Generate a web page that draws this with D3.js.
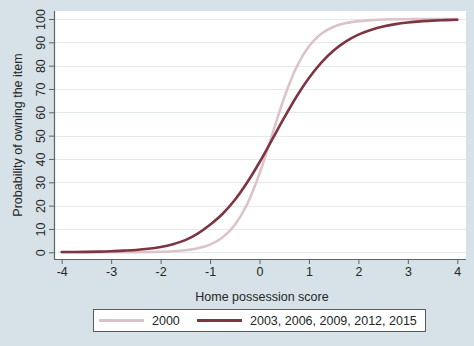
<!DOCTYPE html>
<html>
<head>
<meta charset="utf-8">
<script src="https://cdn.jsdelivr.net/npm/d3@7"></script>
<style>
  html, body { margin: 0; padding: 0; background: #d6e2e7; }
  svg { display: block; font-family: "Liberation Sans", Arial, sans-serif; }
</style>
</head>
<body>
<svg id="chart" width="474" height="346"></svg>
<script>
// Home possession score (x) at which each probability was read
const scores = [-4, -3.75, -3.5, -3.25, -3, -2.75, -2.5, -2.25, -2, -1.75, -1.5, -1.25, -1, -0.75, -0.5, -0.25,
  0, 0.25, 0.5, 0.75, 1, 1.25, 1.5, 1.75, 2, 2.25, 2.5, 2.75, 3, 3.25, 3.5, 3.75, 4];

// Probability of owning the item (%), year 2000
const prob2000 = [0, 0, 0, 0, 0.02, 0.03, 0.06, 0.12, 0.23, 0.45, 0.88, 1.7, 3.3, 6.3, 11.7, 20.6,
  33.7, 50, 66.3, 79.4, 88.3, 93.7, 96.7, 98.3, 99.1, 99.5, 99.8, 99.9, 99.9, 100, 100, 100, 100];

// Probability of owning the item (%), later cycles
const probLater = [0.1, 0.15, 0.2, 0.3, 0.45, 0.7, 1.0, 1.5, 2.3, 3.5, 5.2, 8.0, 11.8, 16.4, 22.4, 29.9,
  38.6, 48.1, 57.7, 66.8, 74.7, 81.3, 86.5, 90.4, 93.3, 95.3, 96.8, 97.8, 98.5, 99.0, 99.3, 99.5, 99.7];

const seriesNames = ["2000", "2003, 2006, 2009, 2012, 2015"];
const xTicks = [-4, -3, -2, -1, 0, 1, 2, 3, 4];
const yTicks = [0, 10, 20, 30, 40, 50, 60, 70, 80, 90, 100];
const xTitle = "Home possession score";
const yTitle = "Probability of owning the item";

const svg = d3.select("#chart");
const W = 474, H = 346;
const bg = "#d6e2e7";
const axisCol = "#5e6466";
const textCol = "#262626";
const plain = d => String(d);   // keeps an ASCII hyphen for negatives

svg.append("rect").attr("width", W).attr("height", H).attr("fill", bg);

// plot region
const pr = { left: 54, right: 466, top: 11, bottom: 259 };
svg.append("rect")
  .attr("x", pr.left).attr("y", pr.top)
  .attr("width", pr.right - pr.left).attr("height", pr.bottom - pr.top)
  .attr("fill", "#ffffff");

const x = d3.scaleLinear().domain([-4, 4]).range([61.7, 457.3]);
const y = d3.scaleLinear().domain([0, 100]).range([252.3, 19]);

// horizontal grid
svg.append("g").selectAll("line").data(yTicks).join("line")
  .attr("x1", pr.left + 1).attr("x2", pr.right)
  .attr("y1", d => Math.round(y(d)) + 0.5).attr("y2", d => Math.round(y(d)) + 0.5)
  .attr("stroke", "#e2eaed").attr("stroke-width", 1.2);

// axes
const yAxis = d3.axisLeft(y).tickValues(yTicks).tickSize(5).tickPadding(4).tickFormat(plain);
const gy = svg.append("g").attr("transform", `translate(${pr.left},0)`).call(yAxis);
gy.select(".domain").attr("d", `M0.5,${pr.top}V${pr.bottom}`).attr("stroke", axisCol).attr("stroke-width", 1.2);
gy.selectAll(".tick line").attr("stroke", axisCol);
// vertical tick labels, reading upward, centred on each tick
gy.selectAll(".tick text")
  .attr("fill", textCol).attr("font-size", 12.5)
  .attr("text-anchor", "middle")
  .attr("x", 0).attr("y", -9).attr("dy", "0")
  .attr("transform", "rotate(-90)");

const xAxis = d3.axisBottom(x).tickValues(xTicks).tickSize(5).tickPadding(3).tickFormat(plain);
const gx = svg.append("g").attr("transform", `translate(0,${pr.bottom})`).call(xAxis);
gx.select(".domain").attr("d", `M${pr.left},0.5H${pr.right}`).attr("stroke", axisCol).attr("stroke-width", 1.2);
gx.selectAll(".tick line").attr("stroke", axisCol);
gx.selectAll(".tick text").attr("fill", textCol).attr("font-size", 12.5);

// axis titles
svg.append("text")
  .attr("x", (pr.left + pr.right) / 2 + 2).attr("y", 301)
  .attr("text-anchor", "middle").attr("font-size", 12.5).attr("fill", textCol)
  .text(xTitle);
svg.append("text")
  .attr("transform", `translate(22,${(pr.top + pr.bottom) / 2}) rotate(-90)`)
  .attr("text-anchor", "middle").attr("font-size", 12.5).attr("fill", textCol)
  .text(yTitle);

// curves
const line = d3.line().x(d => x(d[0])).y(d => y(d[1])).curve(d3.curveMonotoneX);
const colors = ["#dbc3c8", "#7e3441"];
const series = [prob2000, probLater];
series.forEach((vals, i) => {
  svg.append("path")
    .datum(scores.map((s, j) => [s, vals[j]]))
    .attr("d", line)
    .attr("fill", "none")
    .attr("stroke", colors[i])
    .attr("stroke-width", 2.6)
    .attr("stroke-linecap", "round");
});

// legend
const lg = svg.append("g");
lg.append("rect").attr("x", 93.5).attr("y", 309.5).attr("width", 332).attr("height", 22)
  .attr("fill", "#ffffff").attr("stroke", "#555b5e").attr("stroke-width", 1);
const legendItems = [
  { x0: 99, x1: 144, tx: 152 },
  { x0: 197, x1: 242, tx: 250 }
];
legendItems.forEach((it, i) => {
  lg.append("line").attr("x1", it.x0).attr("x2", it.x1).attr("y1", 320.5).attr("y2", 320.5)
    .attr("stroke", colors[i]).attr("stroke-width", 3);
  lg.append("text").attr("x", it.tx).attr("y", 325).attr("font-size", 12.5).attr("fill", textCol)
    .text(seriesNames[i]);
});
</script>
</body>
</html>
